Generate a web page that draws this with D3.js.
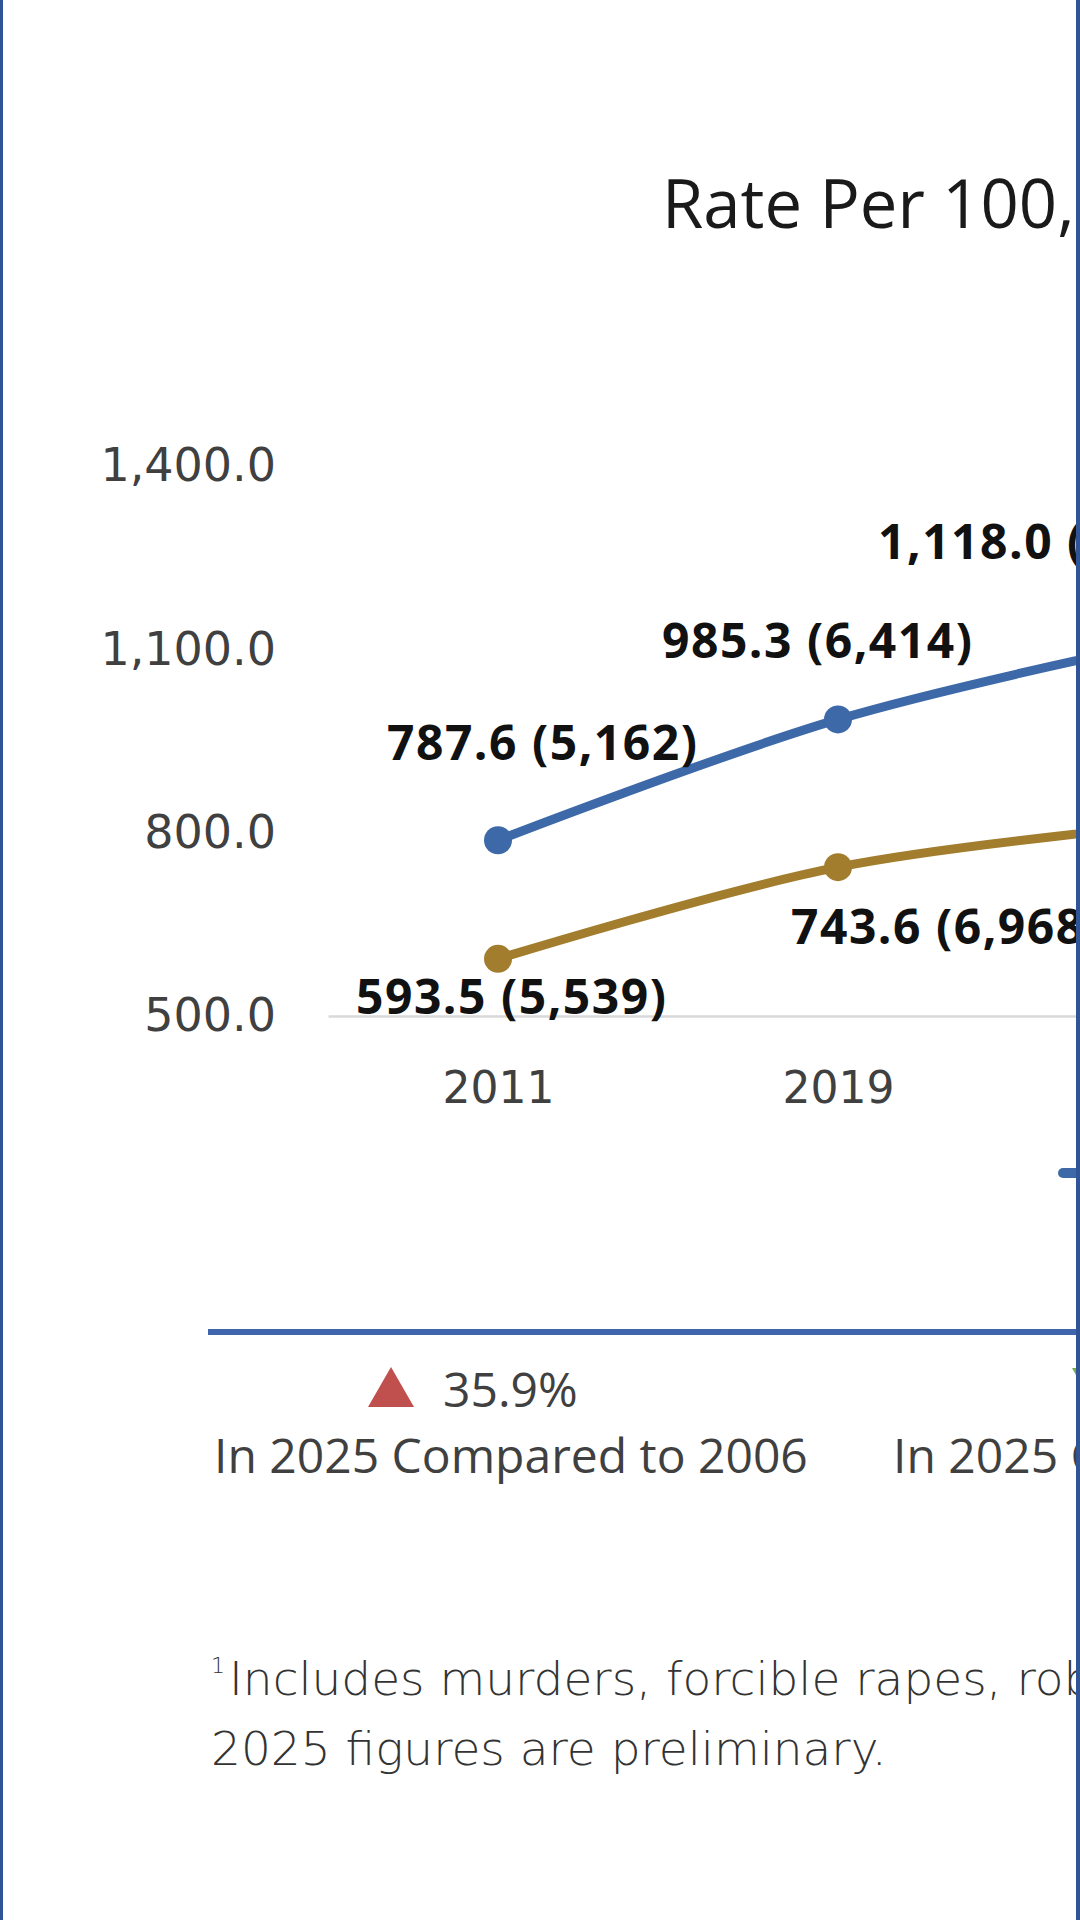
<!DOCTYPE html>
<html>
<head>
<meta charset="utf-8">
<script src="https://cdn.jsdelivr.net/npm/d3@7"></script>
<style>
  html, body { margin: 0; padding: 0; background: #ffffff; }
  svg { display: block; }
</style>
</head>
<body>
<div id="chart"></div>
<script>
// ---------- data ----------
const categories = ["2011", "2019", "2025"];
const seriesA = [787.6, 985.3, 1118.0];          // blue line
const seriesALabels = ["787.6 (5,162)", "985.3 (6,414)", "1,118.0 ("];
const seriesB = [593.5, 743.6, 815.0];           // brown line (3rd value estimated from the curve)
const seriesBLabels = ["593.5 (5,539)", "743.6 (6,968)", ""];
const yTicks = [500, 800, 1100, 1400];
const titleText = "Rate Per 100,000";
const changeValue = "35.9%";
const changeText1 = "In 2025 Compared to 2006";
const changeText2 = "In 2025 Compared to";
const footLine1 = "Includes murders, forcible rapes, robberies, and aggravated assaults.";
const footLine2 = "2025 figures are preliminary.";

// ---------- layout ----------
const W = 1080, H = 1920;
const visibleRight = 1076;
const blue = "#3D69A8", brown = "#A27D2E", frame = "#2F5597";

const svg = d3.select("#chart").append("svg")
  .attr("width", W).attr("height", H);

svg.append("defs").append("clipPath").attr("id", "clip")
  .append("rect").attr("x", 0).attr("y", 0).attr("width", visibleRight).attr("height", H);

const g = svg.append("g").attr("clip-path", "url(#clip)");

// title
g.append("text")
  .attr("x", 662).attr("y", 228)
  .attr("font-family", "'Open Sans', sans-serif")
  .attr("font-size", 67).attr("fill", "#1a1a1a")
  .text(titleText);

// scales
const x = d3.scalePoint().domain(categories).range([328, 328 + 3 * 340]).padding(0.5);
const y = d3.scaleLinear().domain([500, 1400]).range([1016, 466]);

// y axis (labels only)
const yAxis = g.append("g").attr("transform", "translate(328,0)")
  .call(d3.axisLeft(y).tickValues(yTicks).tickFormat(d3.format(",.1f")).tickSize(0).tickPadding(52));
yAxis.select(".domain").remove();
yAxis.selectAll("text")
  .attr("font-family", "'DejaVu Sans', sans-serif")
  .attr("font-size", 46).attr("fill", "#404040");

// x axis (baseline gridline + labels)
const xAxis = g.append("g").attr("transform", "translate(0,1016)")
  .call(d3.axisBottom(x).tickSize(0).tickSizeOuter(0).tickPadding(56));
xAxis.select(".domain").attr("stroke", "#d9d9d9").attr("stroke-width", 2.5);
xAxis.selectAll("text")
  .attr("font-family", "'DejaVu Sans', sans-serif")
  .attr("font-size", 44).attr("fill", "#404040");

// lines
const line = d3.line()
  .x((d, i) => x(categories[i]))
  .y(d => y(d))
  .curve(d3.curveCatmullRom.alpha(0.5));

function drawSeries(values, labels, color, offsets) {
  g.append("path").datum(values)
    .attr("d", line).attr("fill", "none")
    .attr("stroke", color).attr("stroke-width", 9)
    .attr("stroke-linecap", "round").attr("stroke-linejoin", "round");
  g.selectAll(null).data(values).enter().append("circle")
    .attr("cx", (d, i) => x(categories[i]))
    .attr("cy", d => y(d))
    .attr("r", 14).attr("fill", color);
  g.selectAll(null).data(values).enter().append("text")
    .attr("x", (d, i) => x(categories[i]) + offsets[i][0])
    .attr("y", (d, i) => y(d) + offsets[i][1])
    .attr("font-family", "'Open Sans', sans-serif")
    .attr("font-weight", 700).attr("font-size", 48)
    .attr("letter-spacing", 1.5)
    .attr("fill", "#111")
    .text((d, i) => labels[i]);
}
drawSeries(seriesB, seriesBLabels, brown, [[-142, 55], [-47, 77], [0, 0]]);
drawSeries(seriesA, seriesALabels, blue, [[-111, -80], [-176, -61], [-300, -79]]);

// legend dash (cut off at right)
g.append("line")
  .attr("x1", 1063).attr("x2", 1150).attr("y1", 1173).attr("y2", 1173)
  .attr("stroke", blue).attr("stroke-width", 10).attr("stroke-linecap", "round");

// separator
g.append("line")
  .attr("x1", 208).attr("x2", W).attr("y1", 1332).attr("y2", 1332)
  .attr("stroke", "#3F65AD").attr("stroke-width", 6);

// change indicators
const tri = (cx, top, w, h, up) => up
  ? `M${cx - w / 2},${top + h}L${cx + w / 2},${top + h}L${cx},${top}Z`
  : `M${cx - w / 2},${top}L${cx + w / 2},${top}L${cx},${top + h}Z`;
g.append("path").attr("d", tri(391, 1367, 46, 40, true)).attr("fill", "#C0504D");
g.append("path").attr("d", tri(1095, 1368, 46, 40, false)).attr("fill", "#70AD47");

g.append("text").attr("x", 443).attr("y", 1407)
  .attr("font-family", "'Open Sans', sans-serif").attr("font-size", 48).attr("fill", "#404040")
  .text(changeValue);
g.append("text").attr("x", 214).attr("y", 1473)
  .attr("font-family", "'Open Sans', sans-serif").attr("font-size", 48).attr("fill", "#404040")
  .text(changeText1);
g.append("text").attr("x", 893).attr("y", 1473)
  .attr("font-family", "'Open Sans', sans-serif").attr("font-size", 48).attr("fill", "#404040")
  .text(changeText2);

// footnote
const foot = g.append("text").attr("x", 211).attr("y", 1695)
  .attr("font-family", "'DejaVu Sans', sans-serif").attr("font-weight", 200)
  .attr("font-size", 47).attr("fill", "#333");
foot.append("tspan").attr("font-size", 22).attr("dy", -22).text("1");
foot.append("tspan").attr("dy", 22).attr("dx", 4).text(footLine1);
g.append("text").attr("x", 211).attr("y", 1765)
  .attr("font-family", "'DejaVu Sans', sans-serif").attr("font-weight", 200)
  .attr("font-size", 47).attr("fill", "#333")
  .text(footLine2);

// frame (left and right edges)
svg.append("rect").attr("x", 0).attr("y", 0).attr("width", 3).attr("height", H).attr("fill", frame);
svg.append("rect").attr("x", visibleRight).attr("y", 0).attr("width", W - visibleRight).attr("height", H).attr("fill", frame);
</script>
</body>
</html>
